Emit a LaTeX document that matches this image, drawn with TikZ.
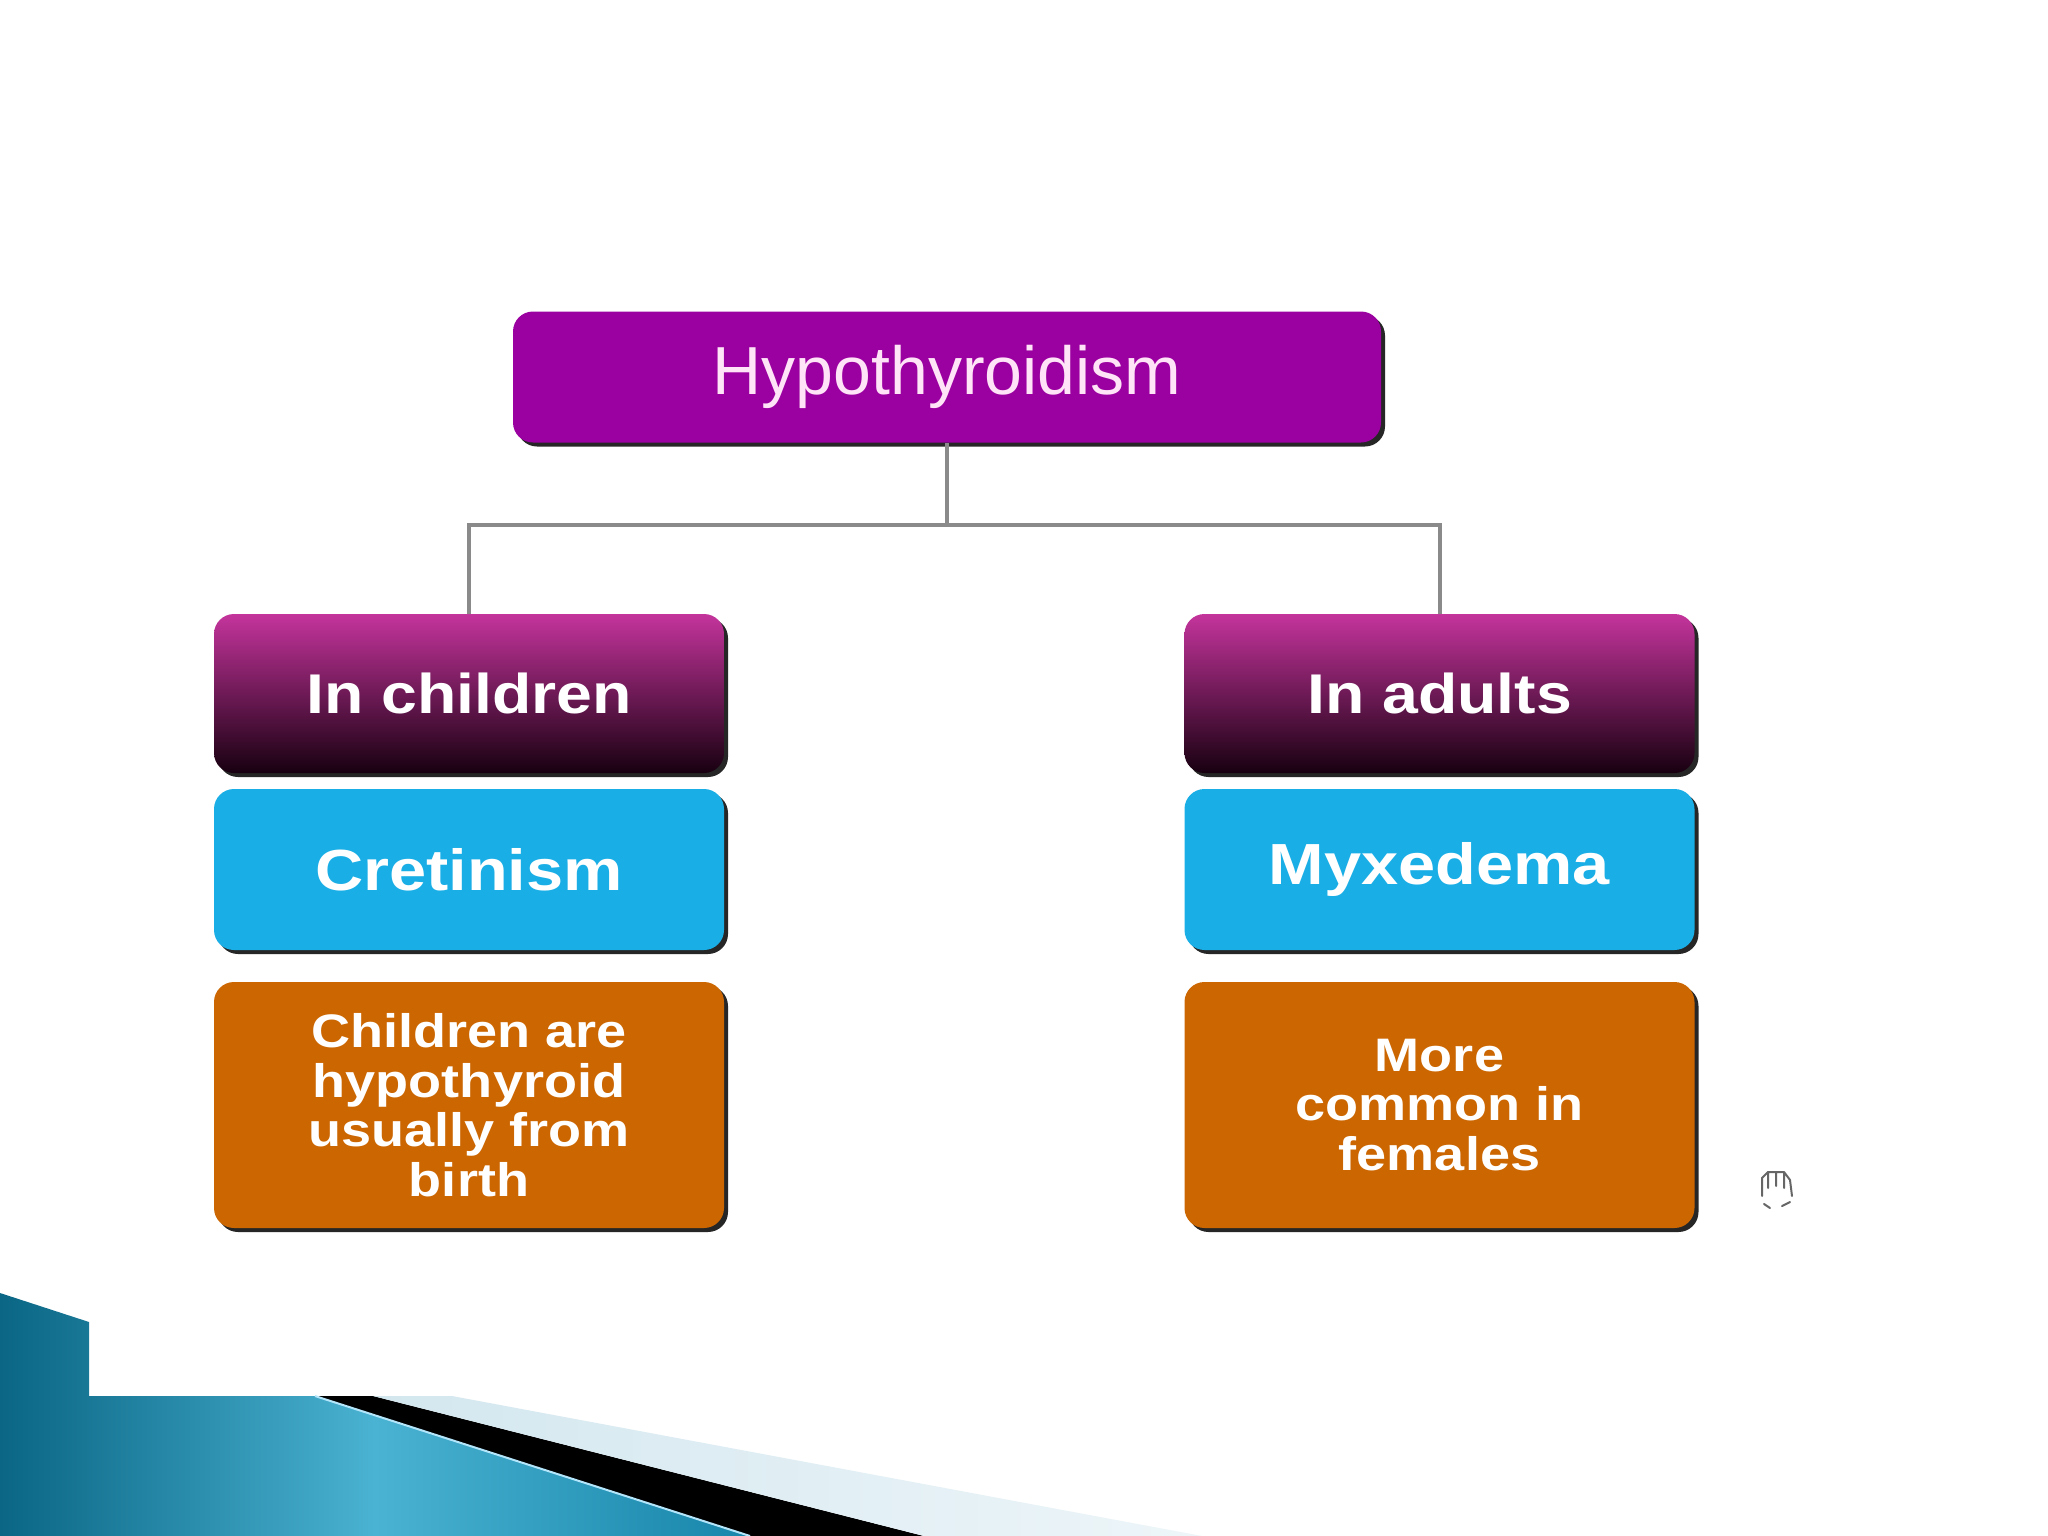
\documentclass[tikz,border=0pt]{standalone}
\usepackage{fontspec}
\setmainfont{Liberation Sans}
\newfontfamily\wb[FakeStretch=1.15]{Liberation Sans}
\usetikzlibrary{shadows}
\definecolor{topmag}{HTML}{9B00A0}
\definecolor{toptext}{HTML}{FFE4F8}
\definecolor{gradtop}{HTML}{C4349C}
\definecolor{gradbot}{HTML}{180010}
\definecolor{cyanbox}{HTML}{1AAEE6}
\definecolor{orangebox}{HTML}{CC6600}
\definecolor{connc}{HTML}{8A8A8A}
\definecolor{tealdark}{HTML}{0A6684}
\definecolor{tealmid}{HTML}{4AB2D2}
\definecolor{tealedge}{HTML}{1786AA}
\definecolor{lightband}{HTML}{D3E7EF}
\tikzset{
  box/.style={rounded corners=20pt, inner sep=0pt, text=white, align=center,
    general shadow={fill=black!85, shadow xshift=4pt, shadow yshift=-4pt}},
  topbox/.style={box, fill=topmag, text=toptext, minimum width=868pt, minimum height=131pt,
    font=\fontsize{68}{76}\selectfont},
  agebox/.style={box, top color=gradtop, bottom color=gradbot, minimum width=510pt, minimum height=159pt,
    font=\wb\bfseries\fontsize{56}{62}\selectfont},
  namebox/.style={box, fill=cyanbox, minimum width=510pt, minimum height=161pt,
    font=\wb\bfseries\fontsize{58}{64}\selectfont},
  notebox/.style={box, fill=orangebox, minimum width=510pt, minimum height=246pt,
    font=\wb\bfseries\fontsize{47}{49.5}\selectfont},
  conn/.style={draw=connc, line width=4pt},
}
\begin{document}
\begin{tikzpicture}[x=1pt, y=-1pt]
\useasboundingbox[fill=white] (0,0) rectangle (2048,1536);
% bottom-left decoration
\shade[left color=tealdark, right color=tealedge, middle color=tealmid]
  (0,1293) -- (89,1322) -- (89,1396) -- (315,1396) -- (750,1536) -- (0,1536) -- cycle;
\fill[black] (315,1396) -- (373,1396) -- (924,1536) -- (750,1536) -- cycle;
\shade[left color=lightband, right color=lightband!40!white]
  (373,1396) -- (452,1396) -- (1202,1536) -- (924,1536) -- cycle;
\draw[white!70!cyan, line width=2pt] (315,1396) -- (750,1536);
% nodes
\node[topbox] (top) at (947,377) {Hypothyroidism};
\node[agebox] (ch) at (469,693.5) {In children};
\node[namebox] (cr) at (469,869.5) {Cretinism};
\node[notebox] (cn) at (469,1105) {Children are\\hypothyroid\\usually from\\birth};
\node[agebox] (ad) at (1439.5,693.5) {In adults};
\node[namebox] (my) at (1439.5,869.5) {Myxedema};
\node[notebox] (fn) at (1439.5,1105) {More\\common in\\females};
% connectors
\coordinate (j) at (947,525);
\draw[conn] (top.south) -- (j);
\draw[conn] (j) -| (ch.north);
\draw[conn] (j) -| (ad.north);
% small hand cursor icon
\draw[black!60, line width=2pt, line cap=round, line join=round]
  (1762,1196) -- (1762,1178) -- (1768,1172) -- (1784,1172) -- (1790,1180) -- (1792,1196)
  (1768,1172) -- (1768,1188) (1776,1172) -- (1776,1186) (1784,1172) -- (1784,1188)
  (1764,1204) -- (1770,1208) (1782,1206) -- (1790,1202);
\end{tikzpicture}
\end{document}
